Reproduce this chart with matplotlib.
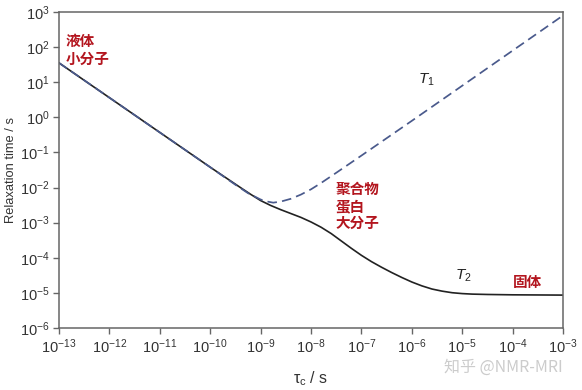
import numpy as np
import matplotlib.pyplot as plt
from matplotlib.ticker import LogLocator, NullLocator, FuncFormatter

plt.rcParams['font.family'] = ['Liberation Sans', 'DejaVu Sans']
plt.rcParams['mathtext.fontset'] = 'custom'
plt.rcParams['mathtext.rm'] = 'Liberation Sans'
plt.rcParams['mathtext.it'] = 'Liberation Sans:italic'
plt.rcParams['mathtext.bf'] = 'Liberation Sans:bold'

# values, as log10 exponents
t1_logtau = [-13, -12, -11, -10, -9.5, -9.25, -9.0, -8.9, -8.75, -8.6, -8.4, -8.2, -8.0,
             -7.8, -7.5, -7.0, -6.0, -5.0, -4.0, -3.0]
t1_logT = [1.55, 0.56, -0.43, -1.42, -1.92, -2.16, -2.34, -2.39, -2.43, -2.40, -2.32, -2.20, -2.05,
           -1.87, -1.58, -1.09, -0.10, 0.90, 1.90, 2.90]

t2_logtau = [-13, -12, -11, -10, -9.4, -9.2, -9.0, -8.8, -8.6, -8.4, -8.2, -8.0, -7.8, -7.6,
             -7.4, -7.2, -7.0, -6.8, -6.6, -6.4, -6.2, -6.0, -5.8, -5.6, -5.4, -5.2, -5.0,
             -4.8, -4.5, -4.0, -3.0]
t2_logT = [1.55, 0.56, -0.43, -1.42, -2.00, -2.19, -2.37, -2.51, -2.63, -2.74, -2.85, -2.98, -3.13, -3.31,
           -3.52, -3.73, -3.93, -4.11, -4.27, -4.42, -4.56, -4.69, -4.80, -4.89, -4.95, -4.995, -5.02,
           -5.035, -5.045, -5.055, -5.063]

tau1 = 10.0 ** np.array(t1_logtau)
T1 = 10.0 ** np.array(t1_logT)
tau2 = 10.0 ** np.array(t2_logtau)
T2 = 10.0 ** np.array(t2_logT)

fig = plt.figure(figsize=(5.82, 3.90), dpi=100)
ax = fig.add_axes([59/582, 1-328/390, (563-59)/582, (328-12)/390])

ax.plot(tau2, T2, color='#222222', lw=1.2)
ax.plot(tau1, T1, color='#4a5a8c', lw=1.25, linestyle=(0, (5.5, 3.0)))

ax.set_xscale('log')
ax.set_yscale('log')
ax.set_xlim(1e-13, 1e-3)
ax.set_ylim(1e-6, 1e3)

ax.xaxis.set_major_locator(LogLocator(base=10, numticks=20))
ax.yaxis.set_major_locator(LogLocator(base=10, numticks=20))
ax.xaxis.set_minor_locator(NullLocator())
ax.yaxis.set_minor_locator(NullLocator())
fmt = FuncFormatter(lambda v, p: r'$10^{%d}$' % int(round(np.log10(v))))
ax.xaxis.set_major_formatter(fmt)
ax.yaxis.set_major_formatter(fmt)

for s in ax.spines.values():
    s.set_color('#666666')
    s.set_linewidth(1.1)
ax.tick_params(direction='out', length=4, width=1, color='#666666',
               labelsize=10.5, labelcolor='#333333', pad=3)

ax.set_xlabel('τ$_\\mathrm{c}$ / s', fontsize=11.5, color='#333333', labelpad=9)
ax.set_ylabel('Relaxation time / s', fontsize=9.3, color='#333333', labelpad=2)

red = '#b3151e'
cjk = ['Noto Sans CJK SC', 'DejaVu Sans']
ax.text(10**-12.86, 10**2.40, '液体\n小分子', color=red, fontsize=10.5, fontweight='bold',
        family=cjk, va='top', ha='left', linespacing=1.1)
ax.text(10**-7.52, 10**-1.80, '聚合物\n蛋白\n大分子', color=red, fontsize=10.5, fontweight='bold',
        family=cjk, va='top', ha='left', linespacing=1.1)
ax.text(10**-3.99, 10**-4.69, '固体', color=red, fontsize=10.5, fontweight='bold',
        family=cjk, va='center', ha='left')

ax.text(10**-5.88, 10**1.06, r'$\mathit{T}_1$', fontsize=11, color='#222222', va='center', ha='left')
ax.text(10**-5.14, 10**-4.52, r'$\mathit{T}_2$', fontsize=11, color='#222222', va='center', ha='left')

fig.text(503/582, 1-367/390, '知乎 @NMR-MRI', family=cjk, fontsize=11.5, color='#cccccc',
         ha='center', va='center')

fig.savefig('out.png', dpi=100)
